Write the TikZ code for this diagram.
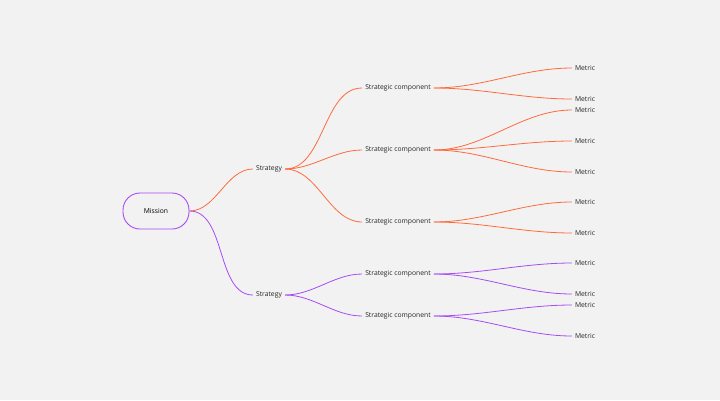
\documentclass[tikz,border=0pt]{standalone}
\usepackage{fontspec}
\setmainfont{Open Sans}
\begin{document}
\begin{tikzpicture}[x=1bp,y=-1bp,
  lbl/.style={font=\fontsize{6.8}{8}\selectfont, text=black!85, inner sep=3bp},
  mis/.style={draw=purp, line width=0.9bp, rounded corners=17bp, minimum width=66bp, minimum height=36bp, font=\fontsize{6.8}{8}\selectfont},
  oc/.style={draw=orng, line width=0.8bp, out=0, in=180, looseness=0.9},
  pc/.style={draw=purp, line width=0.8bp, out=0, in=180, looseness=0.9}]
\definecolor{orng}{HTML}{FF6A3D}
\definecolor{purp}{HTML}{A64CF5}
\fill[fill={rgb,255:red,242;green,242;blue,242}] (0,0) rectangle (720,400);
\useasboundingbox (0,0) rectangle (720,400);
\node[mis] (m) at (156,211) {Mission};
\node[lbl] (s1) at (269,169) {Strategy};
\node[lbl] (s2) at (269,295) {Strategy};
\foreach \n/\y in {c1/88,c2/150,c3/222,c4/274,c5/316}
  \node[lbl] (\n) at (398,\y) {Strategic component};
\foreach \n/\y in {a/68,b/99,c/110,d/141,e/172,f/202,g/233,h/263,i/294,j/305,k/336}
  \node[lbl] (\n) at (585,\y) {Metric};
\draw[oc] (m.east) to (s1.west);
\draw[pc] (m.east) to (s2.west);
\foreach \c in {c1,c2,c3} \draw[oc] (s1.east) to (\c.west);
\foreach \c in {c4,c5} \draw[pc] (s2.east) to (\c.west);
\foreach \c/\t in {c1/a,c1/b,c2/c,c2/d,c2/e,c3/f,c3/g} \draw[oc] (\c.east) to (\t.west);
\foreach \c/\t in {c4/h,c4/i,c5/j,c5/k} \draw[pc] (\c.east) to (\t.west);
\end{tikzpicture}
\end{document}
